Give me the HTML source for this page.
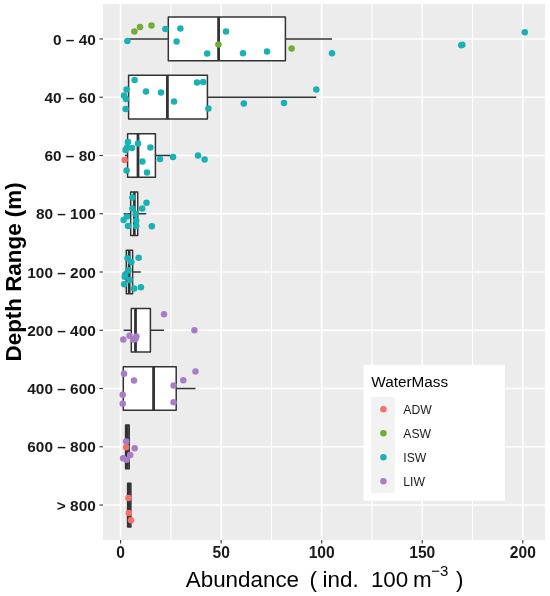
<!DOCTYPE html><html><head><meta charset="utf-8"><style>html,body{margin:0;padding:0;background:#fff;}svg{display:block;}text{font-family:"Liberation Sans",Arial,sans-serif;}</style></head><body>
<svg width="550" height="596" viewBox="0 0 550 596">
<rect width="550" height="596" fill="#fff"/>
<rect x="103" y="4" width="442" height="536" fill="#ECECEC"/>
<line x1="170.88" y1="4" x2="170.88" y2="540" stroke="#fff" stroke-width="1.1"/>
<line x1="271.43" y1="4" x2="271.43" y2="540" stroke="#fff" stroke-width="1.1"/>
<line x1="371.98" y1="4" x2="371.98" y2="540" stroke="#fff" stroke-width="1.1"/>
<line x1="472.52" y1="4" x2="472.52" y2="540" stroke="#fff" stroke-width="1.1"/>
<line x1="120.60" y1="4" x2="120.60" y2="540" stroke="#fff" stroke-width="1.6"/>
<line x1="221.15" y1="4" x2="221.15" y2="540" stroke="#fff" stroke-width="1.6"/>
<line x1="321.70" y1="4" x2="321.70" y2="540" stroke="#fff" stroke-width="1.6"/>
<line x1="422.25" y1="4" x2="422.25" y2="540" stroke="#fff" stroke-width="1.6"/>
<line x1="522.80" y1="4" x2="522.80" y2="540" stroke="#fff" stroke-width="1.6"/>
<line x1="103" y1="38.96" x2="545" y2="38.96" stroke="#fff" stroke-width="1.6"/>
<line x1="103" y1="97.22" x2="545" y2="97.22" stroke="#fff" stroke-width="1.6"/>
<line x1="103" y1="155.48" x2="545" y2="155.48" stroke="#fff" stroke-width="1.6"/>
<line x1="103" y1="213.74" x2="545" y2="213.74" stroke="#fff" stroke-width="1.6"/>
<line x1="103" y1="272.00" x2="545" y2="272.00" stroke="#fff" stroke-width="1.6"/>
<line x1="103" y1="330.26" x2="545" y2="330.26" stroke="#fff" stroke-width="1.6"/>
<line x1="103" y1="388.52" x2="545" y2="388.52" stroke="#fff" stroke-width="1.6"/>
<line x1="103" y1="446.78" x2="545" y2="446.78" stroke="#fff" stroke-width="1.6"/>
<line x1="103" y1="505.04" x2="545" y2="505.04" stroke="#fff" stroke-width="1.6"/>
<line x1="127.4" y1="38.96" x2="168.3" y2="38.96" stroke="#333333" stroke-width="1.5"/>
<line x1="285.4" y1="38.96" x2="332.0" y2="38.96" stroke="#333333" stroke-width="1.5"/>
<rect x="168.3" y="17.11" width="117.10" height="43.70" fill="#fff" stroke="#333333" stroke-width="1.5" stroke-linejoin="round"/>
<line x1="218.6" y1="17.11" x2="218.6" y2="60.80" stroke="#333333" stroke-width="2.8"/>
<line x1="124.0" y1="97.22" x2="128.6" y2="97.22" stroke="#333333" stroke-width="1.5"/>
<line x1="207.4" y1="97.22" x2="316.3" y2="97.22" stroke="#333333" stroke-width="1.5"/>
<rect x="128.6" y="75.37" width="78.80" height="43.70" fill="#fff" stroke="#333333" stroke-width="1.5" stroke-linejoin="round"/>
<line x1="167.4" y1="75.37" x2="167.4" y2="119.07" stroke="#333333" stroke-width="2.8"/>
<line x1="125.0" y1="155.48" x2="127.6" y2="155.48" stroke="#333333" stroke-width="1.5"/>
<line x1="155.4" y1="155.48" x2="170.0" y2="155.48" stroke="#333333" stroke-width="1.5"/>
<rect x="127.6" y="133.63" width="27.80" height="43.70" fill="#fff" stroke="#333333" stroke-width="1.5" stroke-linejoin="round"/>
<line x1="138.0" y1="133.63" x2="138.0" y2="177.33" stroke="#333333" stroke-width="2.8"/>
<line x1="123.6" y1="213.74" x2="130.7" y2="213.74" stroke="#333333" stroke-width="1.5"/>
<line x1="137.7" y1="213.74" x2="146.3" y2="213.74" stroke="#333333" stroke-width="1.5"/>
<rect x="130.7" y="191.89" width="7.00" height="43.70" fill="#fff" stroke="#333333" stroke-width="1.5" stroke-linejoin="round"/>
<line x1="134.3" y1="191.89" x2="134.3" y2="235.59" stroke="#333333" stroke-width="2.8"/>
<line x1="124.2" y1="272.00" x2="126.3" y2="272.00" stroke="#333333" stroke-width="1.5"/>
<line x1="132.6" y1="272.00" x2="140.8" y2="272.00" stroke="#333333" stroke-width="1.5"/>
<rect x="126.3" y="250.15" width="6.30" height="43.70" fill="#fff" stroke="#333333" stroke-width="1.5" stroke-linejoin="round"/>
<line x1="129.2" y1="250.15" x2="129.2" y2="293.85" stroke="#333333" stroke-width="2.8"/>
<line x1="123.6" y1="330.26" x2="131.3" y2="330.26" stroke="#333333" stroke-width="1.5"/>
<line x1="150.4" y1="330.26" x2="164.0" y2="330.26" stroke="#333333" stroke-width="1.5"/>
<rect x="131.3" y="308.41" width="19.10" height="43.70" fill="#fff" stroke="#333333" stroke-width="1.5" stroke-linejoin="round"/>
<line x1="135.5" y1="308.41" x2="135.5" y2="352.11" stroke="#333333" stroke-width="2.8"/>
<line x1="123.3" y1="388.52" x2="123.3" y2="388.52" stroke="#333333" stroke-width="1.5"/>
<line x1="176.2" y1="388.52" x2="195.5" y2="388.52" stroke="#333333" stroke-width="1.5"/>
<rect x="123.3" y="366.67" width="52.90" height="43.70" fill="#fff" stroke="#333333" stroke-width="1.5" stroke-linejoin="round"/>
<line x1="153.6" y1="366.67" x2="153.6" y2="410.37" stroke="#333333" stroke-width="2.8"/>
<line x1="125.6" y1="446.78" x2="125.6" y2="446.78" stroke="#333333" stroke-width="1.5"/>
<line x1="129.2" y1="446.78" x2="129.2" y2="446.78" stroke="#333333" stroke-width="1.5"/>
<rect x="125.6" y="424.93" width="3.60" height="43.70" fill="#fff" stroke="#333333" stroke-width="1.5" stroke-linejoin="round"/>
<line x1="127.4" y1="424.93" x2="127.4" y2="468.63" stroke="#333333" stroke-width="2.8"/>
<line x1="127.6" y1="505.04" x2="127.6" y2="505.04" stroke="#333333" stroke-width="1.5"/>
<line x1="130.9" y1="505.04" x2="130.9" y2="505.04" stroke="#333333" stroke-width="1.5"/>
<rect x="127.6" y="483.20" width="3.30" height="43.70" fill="#fff" stroke="#333333" stroke-width="1.5" stroke-linejoin="round"/>
<line x1="129.2" y1="483.20" x2="129.2" y2="526.89" stroke="#333333" stroke-width="2.8"/>
<circle cx="127.4" cy="41" r="3.25" fill="#1AB1B4"/>
<circle cx="134.4" cy="31.5" r="3.25" fill="#70AC38"/>
<circle cx="140" cy="27.1" r="3.25" fill="#70AC38"/>
<circle cx="151.5" cy="25.5" r="3.25" fill="#70AC38"/>
<circle cx="165.4" cy="29" r="3.25" fill="#1AB1B4"/>
<circle cx="180.4" cy="28.6" r="3.25" fill="#1AB1B4"/>
<circle cx="176.6" cy="41.6" r="3.25" fill="#1AB1B4"/>
<circle cx="207.2" cy="53.4" r="3.25" fill="#1AB1B4"/>
<circle cx="218.4" cy="44.4" r="3.25" fill="#70AC38"/>
<circle cx="226" cy="31.6" r="3.25" fill="#1AB1B4"/>
<circle cx="243" cy="53.2" r="3.25" fill="#1AB1B4"/>
<circle cx="267" cy="51.6" r="3.25" fill="#1AB1B4"/>
<circle cx="291.6" cy="48.4" r="3.25" fill="#70AC38"/>
<circle cx="332" cy="53.2" r="3.25" fill="#1AB1B4"/>
<circle cx="461.3" cy="45.2" r="3.25" fill="#1AB1B4"/>
<circle cx="462.3" cy="44.8" r="3.25" fill="#1AB1B4"/>
<circle cx="524.8" cy="32.2" r="3.25" fill="#1AB1B4"/>
<circle cx="134.6" cy="80" r="3.25" fill="#1AB1B4"/>
<circle cx="126.6" cy="89.6" r="3.25" fill="#1AB1B4"/>
<circle cx="124" cy="95.6" r="3.25" fill="#1AB1B4"/>
<circle cx="126" cy="99" r="3.25" fill="#1AB1B4"/>
<circle cx="125.6" cy="109" r="3.25" fill="#1AB1B4"/>
<circle cx="146" cy="91.6" r="3.25" fill="#1AB1B4"/>
<circle cx="161" cy="92.4" r="3.25" fill="#1AB1B4"/>
<circle cx="174" cy="101.6" r="3.25" fill="#1AB1B4"/>
<circle cx="197" cy="82.6" r="3.25" fill="#1AB1B4"/>
<circle cx="203.2" cy="82" r="3.25" fill="#1AB1B4"/>
<circle cx="208.4" cy="108.4" r="3.25" fill="#1AB1B4"/>
<circle cx="243.8" cy="103.6" r="3.25" fill="#1AB1B4"/>
<circle cx="284" cy="103.1" r="3.25" fill="#1AB1B4"/>
<circle cx="316.3" cy="89.4" r="3.25" fill="#1AB1B4"/>
<circle cx="124.6" cy="160" r="3.25" fill="#F2716A"/>
<circle cx="128" cy="142" r="3.25" fill="#1AB1B4"/>
<circle cx="127" cy="147.4" r="3.25" fill="#1AB1B4"/>
<circle cx="125.6" cy="150" r="3.25" fill="#1AB1B4"/>
<circle cx="132" cy="148" r="3.25" fill="#1AB1B4"/>
<circle cx="138" cy="143.6" r="3.25" fill="#1AB1B4"/>
<circle cx="150.4" cy="147.4" r="3.25" fill="#1AB1B4"/>
<circle cx="142.4" cy="161.6" r="3.25" fill="#1AB1B4"/>
<circle cx="126.6" cy="170.4" r="3.25" fill="#1AB1B4"/>
<circle cx="147" cy="172.6" r="3.25" fill="#1AB1B4"/>
<circle cx="160" cy="159" r="3.25" fill="#1AB1B4"/>
<circle cx="173" cy="157" r="3.25" fill="#1AB1B4"/>
<circle cx="198" cy="155.4" r="3.25" fill="#1AB1B4"/>
<circle cx="204.6" cy="159.4" r="3.25" fill="#1AB1B4"/>
<circle cx="132.4" cy="197.5" r="3.25" fill="#1AB1B4"/>
<circle cx="146.5" cy="202.8" r="3.25" fill="#1AB1B4"/>
<circle cx="142.2" cy="208.5" r="3.25" fill="#1AB1B4"/>
<circle cx="132.4" cy="208.5" r="3.25" fill="#1AB1B4"/>
<circle cx="135.6" cy="213.9" r="3.25" fill="#1AB1B4"/>
<circle cx="126.9" cy="216.6" r="3.25" fill="#1AB1B4"/>
<circle cx="123.6" cy="219.9" r="3.25" fill="#1AB1B4"/>
<circle cx="136.2" cy="220.5" r="3.25" fill="#1AB1B4"/>
<circle cx="128" cy="225.9" r="3.25" fill="#1AB1B4"/>
<circle cx="136.2" cy="225.9" r="3.25" fill="#1AB1B4"/>
<circle cx="151.8" cy="226.2" r="3.25" fill="#1AB1B4"/>
<circle cx="138.6" cy="257.7" r="3.25" fill="#1AB1B4"/>
<circle cx="127.5" cy="258.3" r="3.25" fill="#1AB1B4"/>
<circle cx="131.3" cy="262.1" r="3.25" fill="#1AB1B4"/>
<circle cx="128.5" cy="270.3" r="3.25" fill="#1AB1B4"/>
<circle cx="125.3" cy="274.6" r="3.25" fill="#1AB1B4"/>
<circle cx="124.7" cy="276.8" r="3.25" fill="#1AB1B4"/>
<circle cx="129.6" cy="280.1" r="3.25" fill="#1AB1B4"/>
<circle cx="124.2" cy="284.2" r="3.25" fill="#1AB1B4"/>
<circle cx="134.2" cy="288.6" r="3.25" fill="#1AB1B4"/>
<circle cx="140.9" cy="287.2" r="3.25" fill="#1AB1B4"/>
<circle cx="164" cy="314.2" r="3.25" fill="#A97CC8"/>
<circle cx="194.4" cy="330.2" r="3.25" fill="#A97CC8"/>
<circle cx="123.3" cy="339.5" r="3.25" fill="#A97CC8"/>
<circle cx="129.6" cy="335.8" r="3.25" fill="#A97CC8"/>
<circle cx="133.6" cy="339.6" r="3.25" fill="#A97CC8"/>
<circle cx="136.4" cy="336.4" r="3.25" fill="#A97CC8"/>
<circle cx="135.5" cy="339" r="3.25" fill="#A97CC8"/>
<circle cx="124" cy="373.8" r="3.25" fill="#A97CC8"/>
<circle cx="134" cy="380.4" r="3.25" fill="#A97CC8"/>
<circle cx="122.7" cy="394.7" r="3.25" fill="#A97CC8"/>
<circle cx="122.7" cy="403.8" r="3.25" fill="#A97CC8"/>
<circle cx="173.6" cy="385.6" r="3.25" fill="#A97CC8"/>
<circle cx="173.6" cy="402.2" r="3.25" fill="#A97CC8"/>
<circle cx="183.3" cy="380.2" r="3.25" fill="#A97CC8"/>
<circle cx="195.5" cy="371.6" r="3.25" fill="#A97CC8"/>
<circle cx="126.1" cy="441.4" r="3.25" fill="#A97CC8"/>
<circle cx="126.1" cy="447.2" r="3.25" fill="#F2716A"/>
<circle cx="134.7" cy="448.2" r="3.25" fill="#A97CC8"/>
<circle cx="130.2" cy="455.1" r="3.25" fill="#A97CC8"/>
<circle cx="123.1" cy="458.3" r="3.25" fill="#A97CC8"/>
<circle cx="126.6" cy="459.8" r="3.25" fill="#A97CC8"/>
<circle cx="128.5" cy="497.9" r="3.25" fill="#F2716A"/>
<circle cx="128.8" cy="512.9" r="3.25" fill="#F2716A"/>
<circle cx="131" cy="520.2" r="3.25" fill="#F2716A"/>
<line x1="99.5" y1="38.96" x2="103" y2="38.96" stroke="#333" stroke-width="1.1"/>
<line x1="99.5" y1="97.22" x2="103" y2="97.22" stroke="#333" stroke-width="1.1"/>
<line x1="99.5" y1="155.48" x2="103" y2="155.48" stroke="#333" stroke-width="1.1"/>
<line x1="99.5" y1="213.74" x2="103" y2="213.74" stroke="#333" stroke-width="1.1"/>
<line x1="99.5" y1="272.00" x2="103" y2="272.00" stroke="#333" stroke-width="1.1"/>
<line x1="99.5" y1="330.26" x2="103" y2="330.26" stroke="#333" stroke-width="1.1"/>
<line x1="99.5" y1="388.52" x2="103" y2="388.52" stroke="#333" stroke-width="1.1"/>
<line x1="99.5" y1="446.78" x2="103" y2="446.78" stroke="#333" stroke-width="1.1"/>
<line x1="99.5" y1="505.04" x2="103" y2="505.04" stroke="#333" stroke-width="1.1"/>
<line x1="120.60" y1="540" x2="120.60" y2="543.5" stroke="#333" stroke-width="1.1"/>
<line x1="221.15" y1="540" x2="221.15" y2="543.5" stroke="#333" stroke-width="1.1"/>
<line x1="321.70" y1="540" x2="321.70" y2="543.5" stroke="#333" stroke-width="1.1"/>
<line x1="422.25" y1="540" x2="422.25" y2="543.5" stroke="#333" stroke-width="1.1"/>
<line x1="522.80" y1="540" x2="522.80" y2="543.5" stroke="#333" stroke-width="1.1"/>
<text x="95.8" y="44.56" text-anchor="end" font-size="15.4" font-weight="bold" fill="#1a1a1a">0 – 40</text>
<text x="95.8" y="102.82" text-anchor="end" font-size="15.4" font-weight="bold" fill="#1a1a1a">40 – 60</text>
<text x="95.8" y="161.08" text-anchor="end" font-size="15.4" font-weight="bold" fill="#1a1a1a">60 – 80</text>
<text x="95.8" y="219.34" text-anchor="end" font-size="15.4" font-weight="bold" fill="#1a1a1a">80 – 100</text>
<text x="95.8" y="277.60" text-anchor="end" font-size="15.4" font-weight="bold" fill="#1a1a1a">100 – 200</text>
<text x="95.8" y="335.86" text-anchor="end" font-size="15.4" font-weight="bold" fill="#1a1a1a">200 – 400</text>
<text x="95.8" y="394.12" text-anchor="end" font-size="15.4" font-weight="bold" fill="#1a1a1a">400 – 600</text>
<text x="95.8" y="452.38" text-anchor="end" font-size="15.4" font-weight="bold" fill="#1a1a1a">600 – 800</text>
<text x="95.8" y="510.64" text-anchor="end" font-size="15.4" font-weight="bold" fill="#1a1a1a">> 800</text>
<text x="120.60" y="557.9" text-anchor="middle" font-size="15.6" font-weight="bold" fill="#1a1a1a">0</text>
<text x="221.15" y="557.9" text-anchor="middle" font-size="15.6" font-weight="bold" fill="#1a1a1a">50</text>
<text x="321.70" y="557.9" text-anchor="middle" font-size="15.6" font-weight="bold" fill="#1a1a1a">100</text>
<text x="422.25" y="557.9" text-anchor="middle" font-size="15.6" font-weight="bold" fill="#1a1a1a">150</text>
<text x="522.80" y="557.9" text-anchor="middle" font-size="15.6" font-weight="bold" fill="#1a1a1a">200</text>
<text transform="translate(20.9,271.9) rotate(-90)" text-anchor="middle" font-size="22.4" font-weight="bold" fill="#000">Depth Range (m)</text>
<text x="185.75" y="586.5" font-size="22.4" fill="#000">Abundance</text>
<text x="309.5" y="586.5" font-size="22.4" fill="#000">(</text>
<text x="322.6" y="586.5" font-size="22.4" fill="#000">ind.</text>
<text x="370.9" y="586.5" font-size="22.4" fill="#000">100</text>
<text x="412.9" y="586.5" font-size="22.4" fill="#000">m</text>
<text x="431.2" y="576.2" font-size="15" fill="#000">−3</text>
<text x="455.9" y="586.5" font-size="22.4" fill="#000">)</text>
<rect x="363.6" y="364.9" width="141.2" height="136" fill="#fff"/>
<text x="371.3" y="386.6" font-size="15.3" fill="#000">WaterMass</text>
<rect x="371" y="396.8" width="23.8" height="96.4" fill="#F2F2F2"/>
<circle cx="383.4" cy="409.2" r="3.25" fill="#F2716A"/>
<text x="403.3" y="414.0" font-size="12.2" fill="#1a1a1a">ADW</text>
<circle cx="383.4" cy="433.2" r="3.25" fill="#70AC38"/>
<text x="403.3" y="438.0" font-size="12.2" fill="#1a1a1a">ASW</text>
<circle cx="383.4" cy="457.2" r="3.25" fill="#1AB1B4"/>
<text x="403.3" y="462.0" font-size="12.2" fill="#1a1a1a">ISW</text>
<circle cx="383.4" cy="481.2" r="3.25" fill="#A97CC8"/>
<text x="403.3" y="486.0" font-size="12.2" fill="#1a1a1a">LIW</text>
</svg></body></html>
